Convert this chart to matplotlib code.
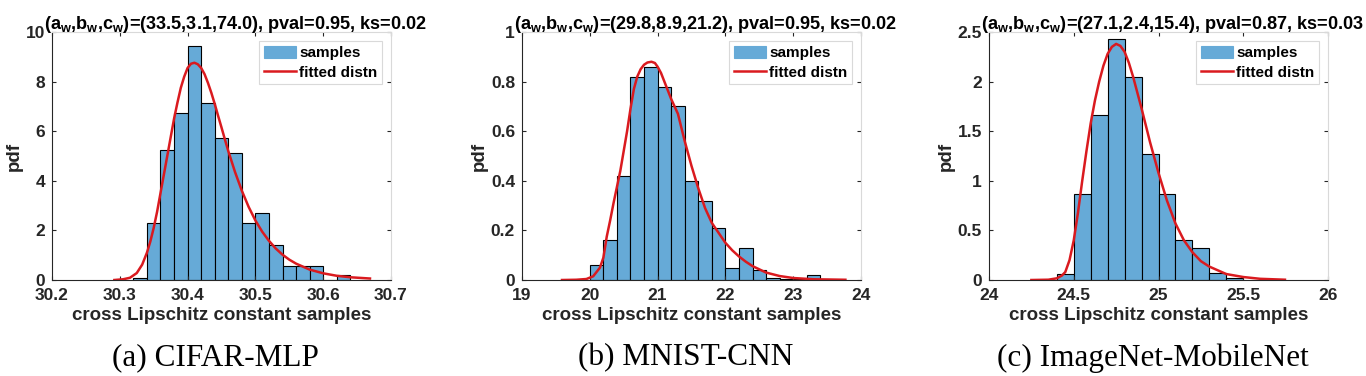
"""
Histograms of cross Lipschitz constant samples with fitted distributions
"""

import numpy as np
import matplotlib.pyplot as plt

# Histogram bin edges and heights (pdf)
EDGES_A = [30.32, 30.34, 30.36, 30.38, 30.40, 30.42, 30.44, 30.46, 30.48,
           30.50, 30.52, 30.54, 30.56, 30.58, 30.60, 30.62, 30.64]
HEIGHTS_A = [0.10, 2.30, 5.24, 6.73, 9.45, 7.13, 5.73, 5.11, 2.30,
             2.70, 1.40, 0.58, 0.58, 0.58, 0.00, 0.19]

EDGES_B = [20.0, 20.2, 20.4, 20.6, 20.8, 21.0, 21.2, 21.4, 21.6, 21.8,
           22.0, 22.2, 22.4, 22.6, 22.8, 23.0, 23.2, 23.4]
HEIGHTS_B = [0.06, 0.16, 0.42, 0.82, 0.86, 0.78, 0.70, 0.40, 0.32, 0.21,
             0.05, 0.13, 0.04, 0.01, 0.005, 0.004, 0.02]

EDGES_C = [24.4, 24.5, 24.6, 24.7, 24.8, 24.9, 25.0, 25.1, 25.2, 25.3,
           25.4, 25.5]
HEIGHTS_C = [0.06, 0.865, 1.665, 2.43, 2.05, 1.27, 0.865, 0.40, 0.32,
             0.075, 0.02]

# Fitted curves, points
FIT_X_A = [30.292, 30.305, 30.315, 30.325, 30.333, 30.340, 30.345, 30.350,
           30.355, 30.360, 30.365, 30.370, 30.375, 30.380, 30.385, 30.390,
           30.395, 30.400, 30.405, 30.410, 30.415, 30.420, 30.425, 30.430,
           30.435, 30.440, 30.445, 30.450, 30.455, 30.460, 30.470, 30.480,
           30.490, 30.500, 30.510, 30.520, 30.530, 30.540, 30.550, 30.560,
           30.580, 30.600, 30.620, 30.640, 30.669]
FIT_Y_A = [0.00, 0.03, 0.09, 0.28, 0.62, 1.10, 1.55, 2.10,
           2.75, 3.50, 4.25, 5.00, 5.75, 6.50, 7.15, 7.75,
           8.20, 8.55, 8.72, 8.76, 8.70, 8.55, 8.30, 7.95,
           7.55, 7.10, 6.62, 6.15, 5.67, 5.20, 4.35, 3.60,
           2.95, 2.40, 1.95, 1.58, 1.27, 1.02, 0.82, 0.66,
           0.42, 0.27, 0.17, 0.11, 0.06]

FIT_X_B = [19.59, 19.80, 19.95, 20.05, 20.15, 20.20, 20.25, 20.30, 20.35,
           20.40, 20.45, 20.50, 20.55, 20.60, 20.65, 20.70, 20.75, 20.80,
           20.85, 20.91, 20.96, 21.00, 21.05, 21.10, 21.15, 21.20, 21.25,
           21.30, 21.40, 21.50, 21.60, 21.70, 21.80, 21.90, 22.00, 22.10,
           22.20, 22.30, 22.40, 22.60, 22.80, 23.00, 23.30, 23.77]
FIT_Y_B = [0.000, 0.001, 0.004, 0.015, 0.050, 0.090, 0.175, 0.24, 0.31,
           0.375, 0.44, 0.52, 0.60, 0.69, 0.77, 0.82, 0.85, 0.868,
           0.877, 0.880, 0.875, 0.86, 0.835, 0.80, 0.765, 0.73, 0.70,
           0.67, 0.56, 0.46, 0.37, 0.29, 0.23, 0.19, 0.15, 0.12,
           0.095, 0.074, 0.056, 0.030, 0.016, 0.008, 0.003, 0.001]

FIT_X_C = [24.25, 24.35, 24.40, 24.43, 24.45, 24.475, 24.50, 24.525, 24.55,
           24.575, 24.60, 24.625, 24.65, 24.675, 24.70, 24.725, 24.75, 24.775,
           24.80, 24.825, 24.85, 24.875, 24.90, 24.95, 25.00, 25.05, 25.10,
           25.15, 25.20, 25.25, 25.30, 25.40, 25.50, 25.60, 25.746]
FIT_Y_C = [0.000, 0.003, 0.017, 0.045, 0.08, 0.20, 0.40, 0.68, 1.00,
           1.30, 1.58, 1.81, 2.00, 2.16, 2.28, 2.35, 2.38, 2.36,
           2.30, 2.19, 2.05, 1.89, 1.73, 1.39, 1.08, 0.80, 0.57,
           0.40, 0.28, 0.19, 0.135, 0.060, 0.030, 0.012, 0.003]

TITLES = [r"$\mathbf{(a_w{,}b_w{,}c_w)}$=(33.5,3.1,74.0), pval=0.95, ks=0.02",
          r"$\mathbf{(a_w{,}b_w{,}c_w)}$=(29.8,8.9,21.2), pval=0.95, ks=0.02",
          r"$\mathbf{(a_w{,}b_w{,}c_w)}$=(27.1,2.4,15.4), pval=0.87, ks=0.03"]
CAPTIONS = ["(a) CIFAR-MLP", "(b) MNIST-CNN", "(c) ImageNet-MobileNet"]

XTICKS = [[30.2, 30.3, 30.4, 30.5, 30.6, 30.7],
          [19, 20, 21, 22, 23, 24],
          [24, 24.5, 25, 25.5, 26]]
XTICKLABELS = [["30.2", "30.3", "30.4", "30.5", "30.6", "30.7"],
               ["19", "20", "21", "22", "23", "24"],
               ["24", "24.5", "25", "25.5", "26"]]
YTICKS = [[0, 2, 4, 6, 8, 10],
          [0, 0.2, 0.4, 0.6, 0.8, 1],
          [0, 0.5, 1, 1.5, 2, 2.5]]
YTICKLABELS = [["0", "2", "4", "6", "8", "10"],
               ["0", "0.2", "0.4", "0.6", "0.8", "1"],
               ["0", "0.5", "1", "1.5", "2", "2.5"]]

plt.rcParams['font.family'] = ['Liberation Sans', 'DejaVu Sans']
plt.rcParams['mathtext.fontset'] = 'custom'
plt.rcParams['mathtext.rm'] = 'Liberation Sans'
plt.rcParams['mathtext.bf'] = 'Liberation Sans:bold'
plt.rcParams['mathtext.it'] = 'Liberation Sans:bold'

BAR_COLOR = '#66AAD7'
LINE_COLOR = '#DA1A1F'
TEXT_COLOR = '#262626'

fig = plt.figure(figsize=(13.66, 3.76), dpi=100)
lefts = [52 / 1366, 522 / 1366, 989 / 1366]

data = [(EDGES_A, HEIGHTS_A, FIT_X_A, FIT_Y_A),
        (EDGES_B, HEIGHTS_B, FIT_X_B, FIT_Y_B),
        (EDGES_C, HEIGHTS_C, FIT_X_C, FIT_Y_C)]

for i, (edges, heights, fx, fy) in enumerate(data):
    ax = fig.add_axes([lefts[i], 96 / 376, 339 / 1366, 248 / 376])
    edges = np.array(edges)
    bars = ax.bar(edges[:-1], heights, width=np.diff(edges), align='edge',
                  color=BAR_COLOR, edgecolor='black', linewidth=0.8)
    line, = ax.plot(fx, fy, color=LINE_COLOR, linewidth=1.8)

    ax.set_xlim(XTICKS[i][0], XTICKS[i][-1])
    ax.set_ylim(YTICKS[i][0], YTICKS[i][-1])
    ax.set_xticks(XTICKS[i])
    ax.set_xticklabels(XTICKLABELS[i])
    ax.set_yticks(YTICKS[i])
    ax.set_yticklabels(YTICKLABELS[i])
    ax.tick_params(direction='in', length=3, width=0.8, top=True, right=True,
                   colors=TEXT_COLOR, labelsize=12.5)
    ax.tick_params(axis='x', pad=6)
    ax.tick_params(axis='y', pad=5)
    for lab in ax.get_xticklabels() + ax.get_yticklabels():
        lab.set_fontweight('bold')
    for side in ['left', 'bottom']:
        ax.spines[side].set_color(TEXT_COLOR)
        ax.spines[side].set_linewidth(0.8)
    for side in ['top', 'right']:
        ax.spines[side].set_color('#d9d9d9')
        ax.spines[side].set_linewidth(0.8)

    ax.set_xlabel("cross Lipschitz constant samples", fontsize=13.5,
                  fontweight='bold', color=TEXT_COLOR, labelpad=3)
    ax.set_ylabel("pdf", fontsize=13.5, fontweight='bold', color=TEXT_COLOR,
                  labelpad=2)
    ax.set_title(TITLES[i], fontsize=13.1, fontweight='bold', color='black',
                 x=0.54, pad=2)

    leg = ax.legend([bars, line], ['samples', 'fitted distn'], loc='upper right',
                    prop={'weight': 'bold', 'size': 11},
                    frameon=True, fancybox=False, borderaxespad=0.6,
                    handlelength=2.1, handleheight=0.9, handletextpad=0.2,
                    borderpad=0.3, labelspacing=0.3)
    leg.get_frame().set_edgecolor('#d0d0d0')
    leg.get_frame().set_linewidth(0.8)
    for h in leg.legend_handles:
        if hasattr(h, 'set_edgecolor') and not hasattr(h, 'get_xdata'):
            h.set_edgecolor(BAR_COLOR)

    fig.text(lefts[i] + 0.5 * 339 / 1366 - 6 / 1366, 1 - 358 / 376, CAPTIONS[i],
             family='Liberation Serif', fontsize=22.5, ha='center', va='center',
             color='black')

fig.savefig('out.png', dpi=100)
